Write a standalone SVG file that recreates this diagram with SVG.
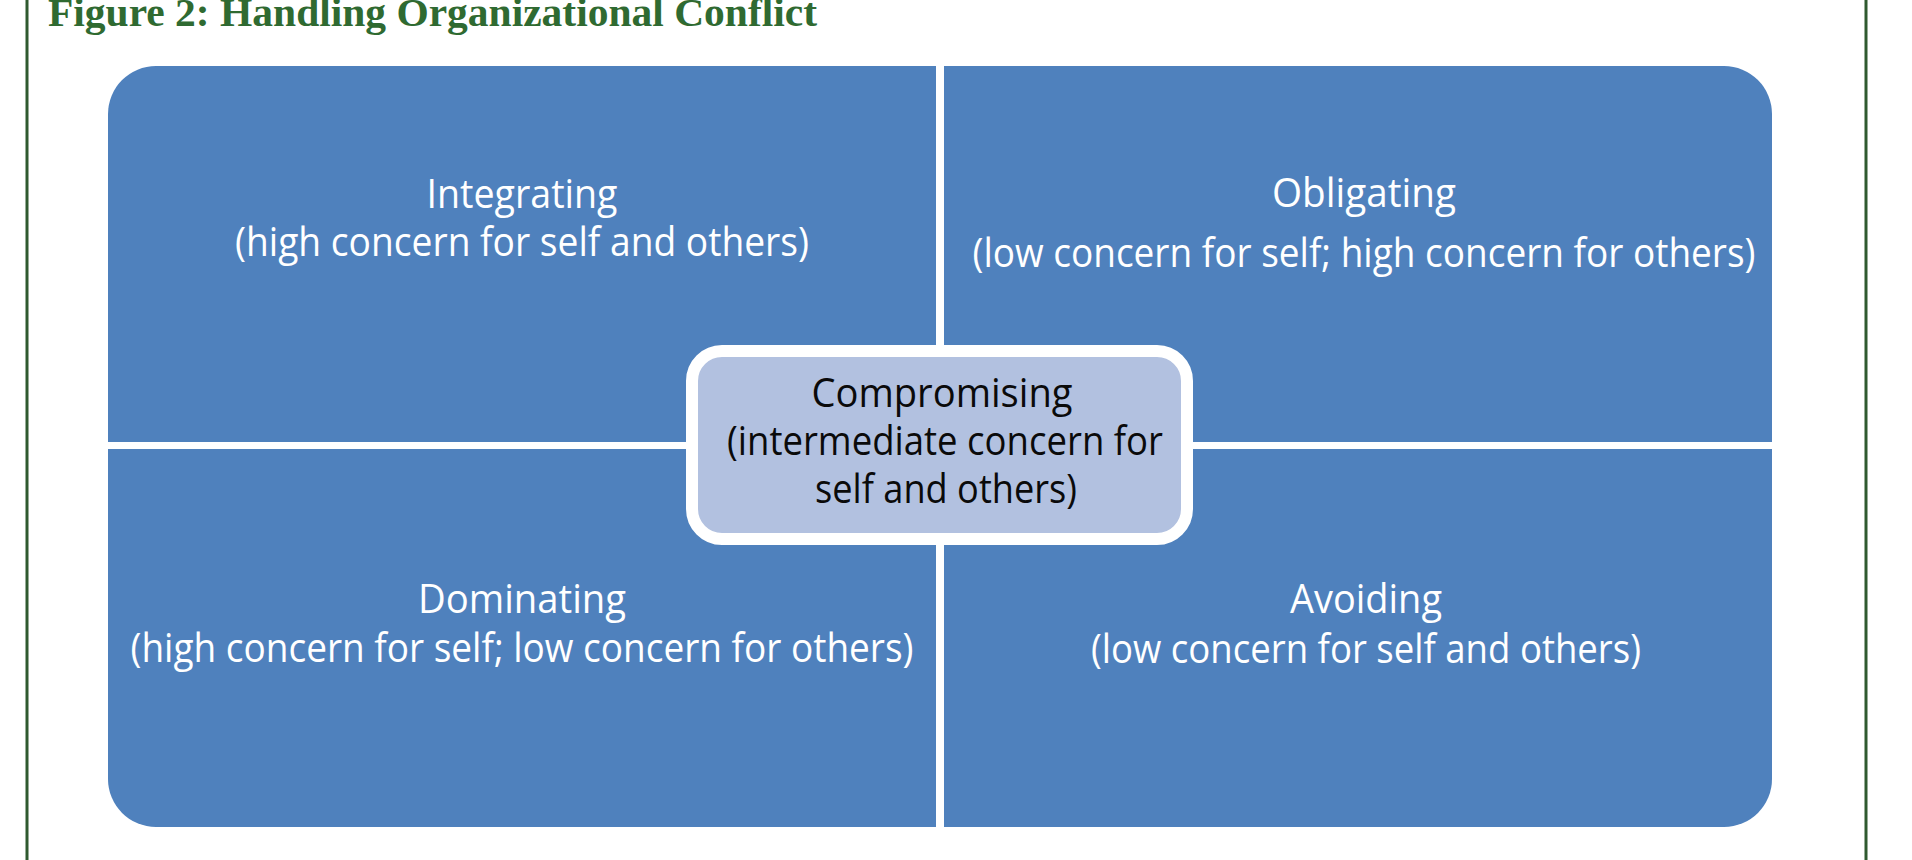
<svg xmlns="http://www.w3.org/2000/svg" width="1912" height="860" viewBox="0 0 1912 860">
  <style>
    .quad { fill: #4f81bd; }
    .qt { font-family: "Open Sans", "Noto Sans", "Liberation Sans", sans-serif; font-size: 40px; fill: #ffffff; text-anchor: middle; }
    .ct { font-family: "Open Sans", "Noto Sans", "Liberation Sans", sans-serif; font-size: 40px; fill: #0a0a0a; text-anchor: middle; }
    .border { stroke: #2f5a2f; stroke-width: 3; }
    .title { font-family: "Liberation Serif", "Times New Roman", serif; font-weight: bold; font-size: 41px; fill: #2f6a31; }
  </style>
  <rect x="0" y="0" width="1912" height="860" fill="#ffffff"/>
  <g id="frame">
    <line class="border" x1="27" y1="0" x2="27" y2="860"/>
    <line class="border" x1="1866" y1="0" x2="1866" y2="860"/>
  </g>
  <g id="title">
    <text class="title" x="48" y="26" textLength="769" lengthAdjust="spacingAndGlyphs">Figure 2: Handling Organizational Conflict</text>
  </g>
  <g id="integrating">
    <path class="quad" d="M108,442 V114 A48,48 0 0 1 156,66 H936 V442 Z"/>
    <text class="qt" x="522" y="208" textLength="191" lengthAdjust="spacingAndGlyphs">Integrating</text>
    <text class="qt" x="522" y="256" textLength="574" lengthAdjust="spacingAndGlyphs">(high concern for self and others)</text>
  </g>
  <g id="obligating">
    <path class="quad" d="M944,66 H1724 A48,48 0 0 1 1772,114 V442 H944 Z"/>
    <text class="qt" x="1364" y="207" textLength="184" lengthAdjust="spacingAndGlyphs">Obligating</text>
    <text class="qt" x="1364" y="267" textLength="783" lengthAdjust="spacingAndGlyphs">(low concern for self; high concern for others)</text>
  </g>
  <g id="dominating">
    <path class="quad" d="M108,449 H936 V827 H156 A48,48 0 0 1 108,779 Z"/>
    <text class="qt" x="522" y="613" textLength="208" lengthAdjust="spacingAndGlyphs">Dominating</text>
    <text class="qt" x="522" y="662" textLength="783" lengthAdjust="spacingAndGlyphs">(high concern for self; low concern for others)</text>
  </g>
  <g id="avoiding">
    <path class="quad" d="M944,449 H1772 V779 A48,48 0 0 1 1724,827 H944 Z"/>
    <text class="qt" x="1366" y="613" textLength="152" lengthAdjust="spacingAndGlyphs">Avoiding</text>
    <text class="qt" x="1366" y="663" textLength="550" lengthAdjust="spacingAndGlyphs">(low concern for self and others)</text>
  </g>
  <g id="compromising">
    <rect x="692" y="351" width="495" height="188" rx="30" ry="30" fill="#b2c1e0" stroke="#ffffff" stroke-width="12"/>
    <text class="ct" x="942" y="407" textLength="261" lengthAdjust="spacingAndGlyphs">Compromising</text>
    <text class="ct" x="945" y="455" textLength="436" lengthAdjust="spacingAndGlyphs">(intermediate concern for</text>
    <text class="ct" x="946" y="503" textLength="262" lengthAdjust="spacingAndGlyphs">self and others)</text>
  </g>
  <g id="connectors"/>
</svg>
